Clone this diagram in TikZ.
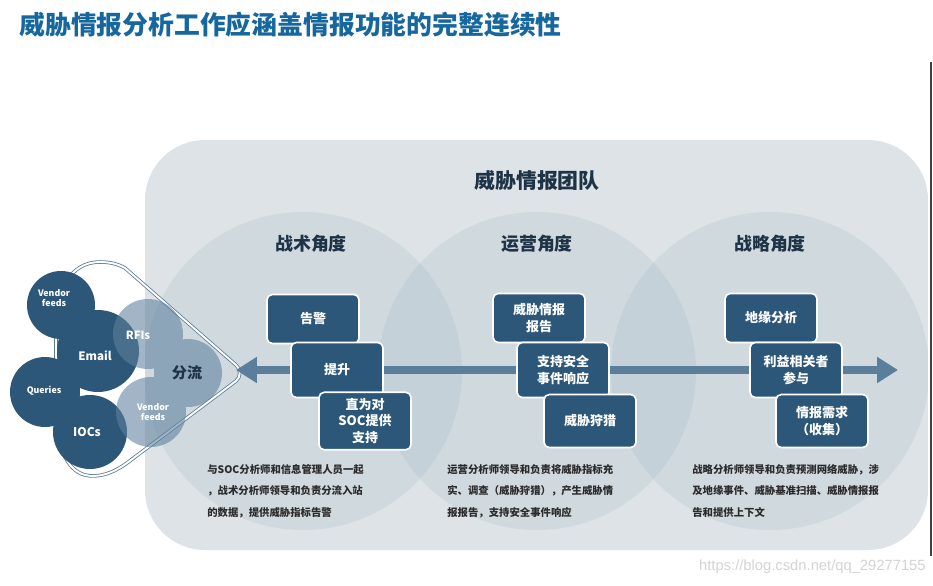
\documentclass[tikz,border=0pt]{standalone}
\usepackage{fontspec}
\setmainfont{Noto Sans CJK SC}
\newfontfamily\markfont{Liberation Sans}
\usepackage{xcolor}
\usetikzlibrary{arrows.meta}

\definecolor{titleblue}{HTML}{17679F}
\definecolor{panelgray}{HTML}{DDE3E6}
\definecolor{zonegray}{HTML}{9CB2C2}
\definecolor{cardblue}{HTML}{2D5779}
\definecolor{flowblue}{HTML}{5B7E9A}
\definecolor{headnavy}{HTML}{1E3346}
\definecolor{notegray}{HTML}{2B2B2B}
\definecolor{srcblue}{HTML}{2C5778}
\definecolor{triageblue}{HTML}{5E819D}
\definecolor{funnelline}{HTML}{5A7A94}

\begin{document}
\begin{tikzpicture}[
    x=0.02cm, y=-0.02cm,
    card/.style={rectangle, rounded corners=3pt, draw=white, line width=0.9pt, fill=cardblue, text=white, minimum width=1.84cm, align=center, font=\fontsize{7.4}{9.5}\selectfont\bfseries},
    head/.style={text=headnavy, font=\fontsize{10.2}{12}\selectfont\bfseries},
    note/.style={anchor=north west, align=left, inner sep=0pt, text=notegray, font=\fontsize{5.9}{12.2}\selectfont\bfseries},
    srclabel/.style={text=white, align=center, inner sep=0pt, font=\fontsize{5}{5.8}\selectfont\bfseries},
    zone/.style={fill=zonegray, fill opacity=0.2},
    funnel/.style={draw=funnelline, line width=0.45pt, double=white, double distance=1.1pt},
    flow/.style={line width=0.16cm, draw=flowblue, {Triangle[length=0.42cm, width=0.5cm]}-{Triangle[length=0.42cm, width=0.5cm]}}
]
% Canvas
\fill[white] (0,0) rectangle (933,585);
\node[anchor=west, inner sep=0pt, text=titleblue, font=\fontsize{14.7}{16}\selectfont\bfseries] (title) at (19,25) {威胁情报分析工作应涵盖情报功能的完整连续性};
% Team panel
\fill[panelgray, rounded corners=1.2cm] (145,140) rectangle (928,550);
\begin{scope}
\clip[rounded corners=1.2cm] (145,140) rectangle (928,550);
\fill[zone] (303,371) circle (3.18cm);
\fill[zone] (537,371) circle (3.18cm);
\fill[zone] (770,371) circle (3.18cm);
\end{scope}
\draw[black!75, line width=0.6pt] (931,62) -- (931,556);
% Funnel
\draw[funnel] (100,262) .. controls (110,262) and (118,264) .. (125,268) -- (236,365) .. controls (241,369) and (241,377) .. (236,381) -- (127,463) .. controls (112,474) and (97,478) .. (85,475) .. controls (66,470) and (56,445) .. (56,405) -- (56,330) .. controls (56,290) and (70,262) .. cycle;
% Source circles
\fill[srcblue] (61,305) circle (0.68cm) (98,351) circle (0.82cm) (45,392) circle (0.7cm) (90,432) circle (0.74cm);
\fill[triageblue, fill opacity=0.58] (148,334) circle (0.7cm) (188,373) circle (0.68cm) (151,412) circle (0.7cm);
\node[srclabel] (vendorA) at (54,298) {Vendor\\feeds};
\node[srclabel, font=\fontsize{6.6}{7}\selectfont\bfseries] (email) at (95,356) {Email};
\node[srclabel] (queries) at (44,391) {Queries};
\node[srclabel, font=\fontsize{6.8}{7}\selectfont\bfseries] (iocs) at (87,432) {IOCs};
\node[srclabel, font=\fontsize{6.4}{7}\selectfont\bfseries] (rfis) at (138,335) {RFIs};
\node[srclabel, text=headnavy, font=\fontsize{8.6}{9}\selectfont\bfseries] (triage) at (187,373) {分流};
\node[srclabel] (vendorB) at (153,412) {Vendor\\feeds};
% Headings
\node[text=headnavy, font=\fontsize{11.9}{13}\selectfont\bfseries] (team) at (537,181) {威胁情报团队};
\node[head] (tactic) at (311,244) {战术角度};
\node[head] (oper) at (537,244) {运营角度};
\node[head] (strat) at (770,244) {战略角度};
% Flow arrow
\coordinate (west) at (236,370);
\coordinate (east) at (898,370);
\draw[flow] (west) -- (east);
% Tactical cards
\node[card, minimum height=0.98cm] (alert) at (313,319) {告警};
\node[card, minimum height=1.1cm] (escalate) at (337,370) {提升};
\node[card, minimum height=1.12cm] (socsup) at (365,421) {直为对\\SOC提供\\支持};
% Operational cards
\node[card, minimum height=0.98cm] (report) at (539,318) {威胁情报\\报告};
\node[card, minimum height=1.1cm] (respond) at (563,370) {支持安全\\事件响应};
\node[card, minimum height=1.06cm] (hunt) at (590,421) {威胁狩猎};
% Strategic cards
\node[card, minimum height=0.98cm] (geo) at (771,318) {地缘分析};
\node[card, minimum height=1.1cm] (stake) at (796,370) {利益相关者\\参与};
\node[card, minimum height=1.06cm] (needs) at (822,421) {情报需求\\（收集）};
% Notes
\node[note] (tacnote) at (207,464) {与SOC分析师和信息管理人员一起\\，战术分析师领导和负责分流入站\\的数据，提供威胁指标告警};
\node[note] (opnote) at (447,464) {运营分析师领导和负责将威胁指标充\\实、调查（威胁狩猎），产生威胁情\\报报告，支持安全事件响应};
\node[note] (stnote) at (692,464) {战略分析师领导和负责预测网络威胁，涉\\及地缘事件、威胁基准扫描、威胁情报报\\告和提供上下文};
\node[anchor=east, inner sep=0pt, text=black!17, font=\markfont\fontsize{8.4}{9}\selectfont] (mark) at (926,567) {https://blog.csdn.net/qq\_29277155};
\end{tikzpicture}
\end{document}
